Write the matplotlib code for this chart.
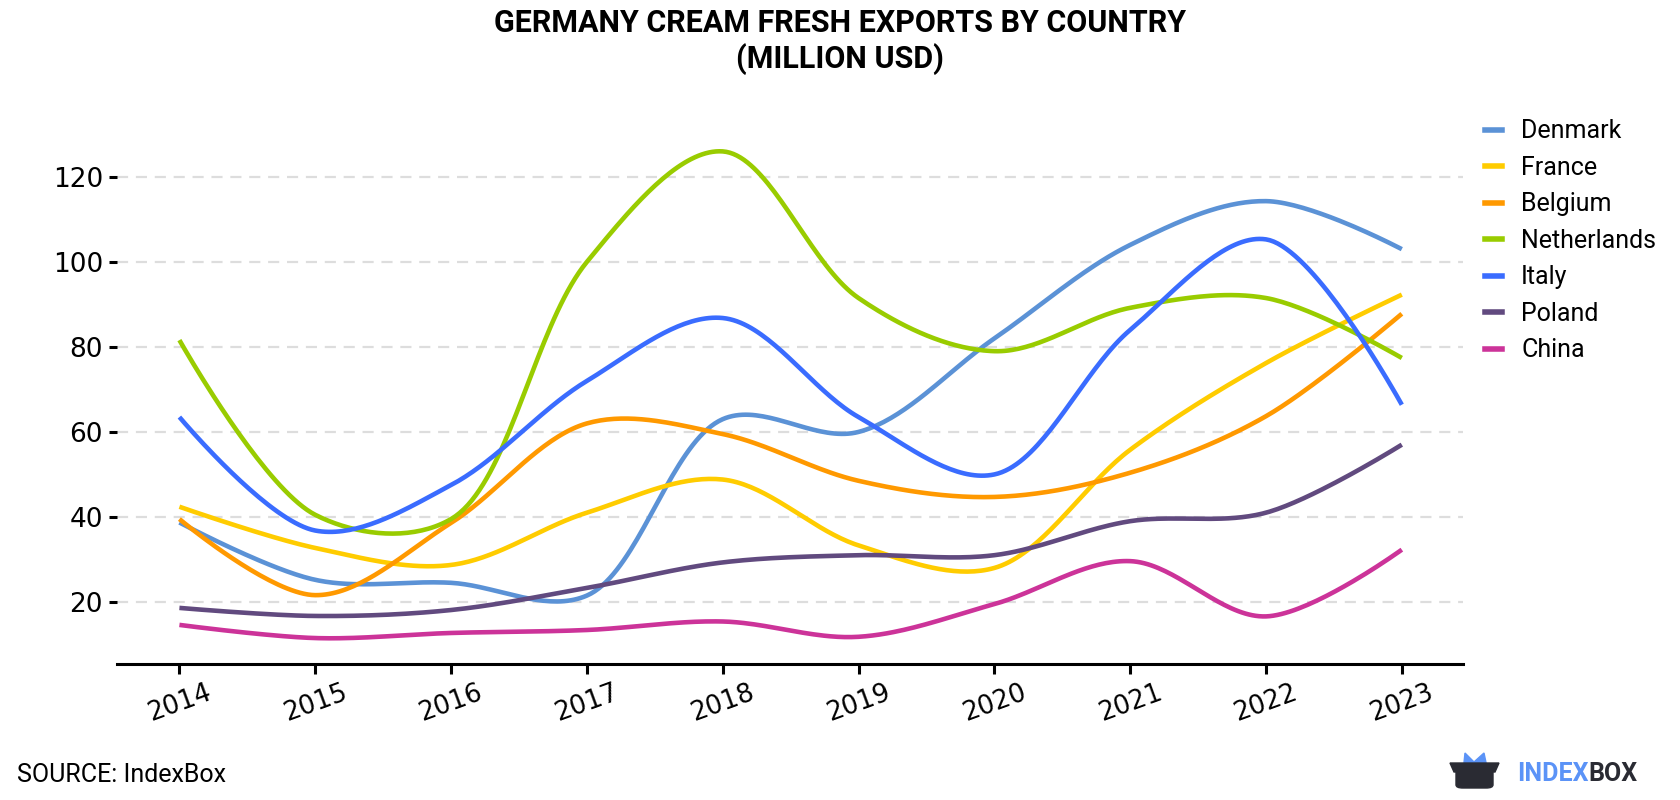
import numpy as np
import matplotlib
matplotlib.use("Agg")
import matplotlib.pyplot as plt
from matplotlib.patches import Polygon, FancyBboxPatch
from matplotlib.lines import Line2D

# data
years = [2014, 2015, 2016, 2017, 2018, 2019, 2020, 2021, 2022, 2023]
denmark = [38.7, 25.2, 24.5, 21.5, 63.0, 60.0, 82.0, 104.0, 114.3, 103.0]
france = [42.4, 32.7, 28.7, 41.0, 48.8, 33.3, 28.0, 55.8, 76.2, 92.3]
belgium = [39.5, 21.6, 38.6, 62.0, 59.5, 48.5, 44.7, 50.4, 63.7, 87.8]
netherlands = [81.6, 40.5, 39.5, 100.0, 126.0, 91.5, 79.0, 89.2, 91.5, 77.4]
italy = [63.5, 36.8, 47.5, 72.0, 86.8, 63.5, 50.0, 84.0, 105.3, 66.4]
poland = [18.6, 16.7, 18.1, 23.3, 29.3, 31.0, 31.0, 39.0, 41.0, 57.0]
china = [14.6, 11.5, 12.7, 13.4, 15.4, 11.8, 19.5, 29.6, 16.6, 32.3]

series = [
    ("Denmark", denmark, "#5b92d6"),
    ("France", france, "#ffcc00"),
    ("Belgium", belgium, "#ff9900"),
    ("Netherlands", netherlands, "#99cc00"),
    ("Italy", italy, "#3a6cff"),
    ("Poland", poland, "#614a7f"),
    ("China", china, "#cc3399"),
]


def catmull_rom(px, py, alpha=0.5, n=40):
    # centripetal catmull-rom through pixel points, end points repeated
    pts = np.column_stack([px, py])
    pts = np.vstack([pts[:1], pts, pts[-1:]])
    t = np.linspace(0, 1, n)[:, None]
    out = []
    for i in range(1, len(pts) - 2):
        p0, p1, p2, p3 = pts[i - 1], pts[i], pts[i + 1], pts[i + 2]
        d01 = np.hypot(*(p1 - p0))
        d12 = np.hypot(*(p2 - p1))
        d23 = np.hypot(*(p3 - p2))
        l01a, l12a, l23a = d01**alpha, d12**alpha, d23**alpha
        l01_2a, l12_2a, l23_2a = d01**(2 * alpha), d12**(2 * alpha), d23**(2 * alpha)
        c1 = p1.copy()
        c2 = p2.copy()
        if l01a > 1e-9:
            a = 2 * l01_2a + 3 * l01a * l12a + l12_2a
            m = 3 * l01a * (l01a + l12a)
            c1 = (p1 * a - p0 * l12_2a + p2 * l01_2a) / m
        if l23a > 1e-9:
            b = 2 * l23_2a + 3 * l23a * l12a + l12_2a
            m = 3 * l23a * (l23a + l12a)
            c2 = (p2 * b + p1 * l23_2a - p3 * l12_2a) / m
        seg = ((1 - t)**3 * p1 + 3 * (1 - t)**2 * t * c1
               + 3 * (1 - t) * t**2 * c2 + t**3 * p2)
        out.append(seg)
    out = np.vstack(out)
    return out[:, 0], out[:, 1]


fig = plt.figure(figsize=(16.8, 8), dpi=100)
ax = fig.add_axes([0.0696, 0.17, 0.8012, 0.662])
ax.set_xlim(2013.54, 2023.45)
ax.set_ylim(5.4, 130)

to_px = ax.transData
to_data = ax.transData.inverted()
for name, vals, col in series:
    pix = to_px.transform(np.column_stack([years, vals]))
    cx, cy = catmull_rom(pix[:, 0], pix[:, 1])
    d = to_data.transform(np.column_stack([cx, cy]))
    ax.plot(d[:, 0], d[:, 1], color=col, lw=3.3, label=name, solid_capstyle="butt")

ax.set_xticks(years)
ax.set_xticklabels([str(y) for y in years], rotation=20, fontsize=18.5)
ax.set_yticks([20, 40, 60, 80, 100, 120])
ax.tick_params(axis="y", labelsize=19, length=6, width=2.2, pad=4)
ax.tick_params(axis="x", length=7, width=2.2, pad=4)
ax.yaxis.grid(True, color="#dddddd", linestyle=(0, (5, 3.5)), linewidth=1.6)
ax.set_axisbelow(True)
for s in ["top", "right", "left"]:
    ax.spines[s].set_visible(False)
ax.spines["bottom"].set_linewidth(2.2)

fig.suptitle("GERMANY CREAM FRESH EXPORTS BY COUNTRY\n(MILLION USD)",
             x=0.5, y=0.99, fontsize=22, fontweight="bold",
             family=["Liberation Sans Narrow", "Roboto"], linespacing=1.2)

handles = [Line2D([0], [0], color=c, lw=4) for _, _, c in series]
fig.legend(handles, [n for n, _, _ in series], loc="upper left",
           bbox_to_anchor=(0.8705, 0.879), frameon=False,
           prop={"family": "Roboto", "size": 18}, handlelength=0.7,
           handletextpad=0.75, labelspacing=0.5)

fig.text(0.01, 0.031, "SOURCE: IndexBox", fontsize=18, family="Roboto",
         va="center", ha="left")

# logo
dark = "#2a2b33"
blue = "#5b93f7"
fig.patches.append(Polygon([[1463 / 1680, 1 - 772 / 800], [1465 / 1680, 1 - 753 / 800],
                            [1474 / 1680, 1 - 762 / 800], [1484 / 1680, 1 - 753 / 800],
                            [1488 / 1680, 1 - 772 / 800]], closed=True,
                           transform=fig.transFigure, color=blue))
fig.patches.append(FancyBboxPatch((1456 / 1680, 1 - 788 / 800), 37 / 1680, 20 / 800,
                                  boxstyle="round,pad=0,rounding_size=0.004",
                                  transform=fig.transFigure, color=dark))
fig.patches.append(Polygon([[1450 / 1680, 1 - 763 / 800], [1499 / 1680, 1 - 763 / 800],
                            [1495 / 1680, 1 - 772 / 800], [1454 / 1680, 1 - 772 / 800]],
                           closed=True, transform=fig.transFigure, color=dark))
t1 = fig.text(1517 / 1680, 1 - 774 / 800, "INDEX", fontsize=18, fontweight="bold",
              family="Roboto", color=blue, va="center", ha="left")
fig.canvas.draw()
bb = t1.get_window_extent()
fig.text(bb.x1 / fig.bbox.width, 1 - 774 / 800, "BOX", fontsize=18, fontweight="bold",
         family="Roboto", color=dark, va="center", ha="left")

fig.savefig("out.png", dpi=100)
